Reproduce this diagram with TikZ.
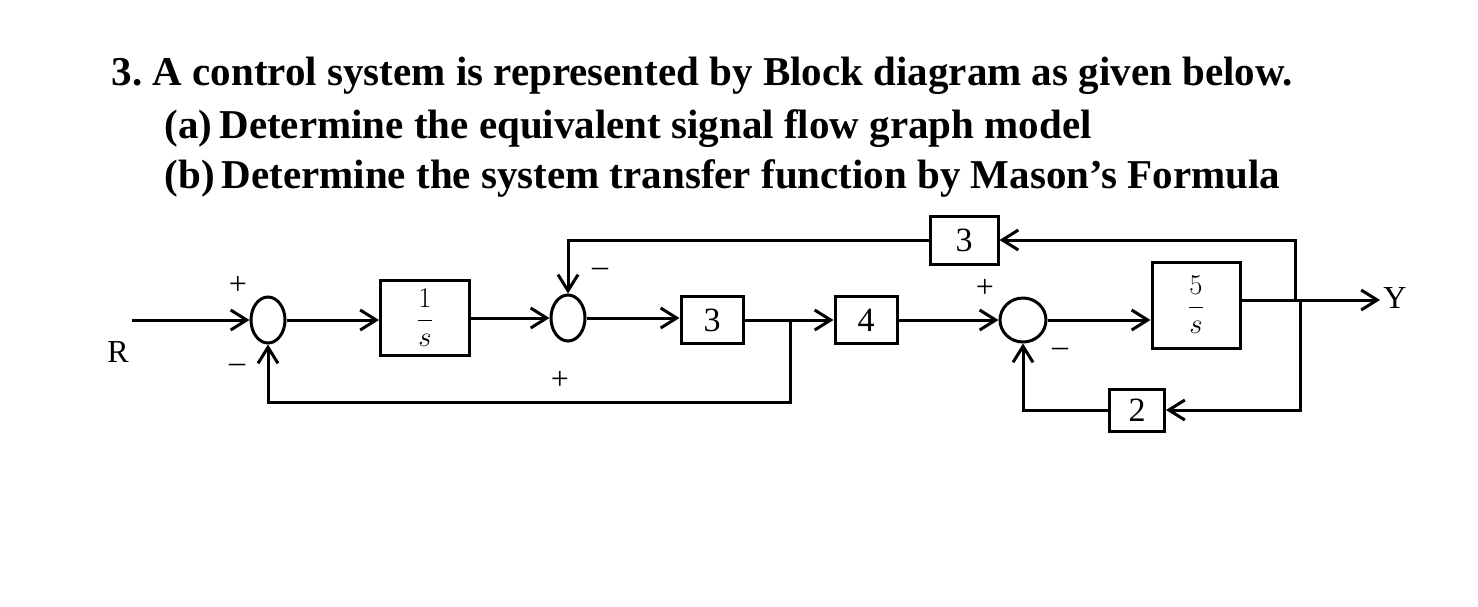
\documentclass[tikz,border=0pt]{standalone}
\usepackage{fontspec}
\setmainfont{Liberation Serif}
\usetikzlibrary{arrows.meta,shapes.geometric}
\begin{document}
\begin{tikzpicture}[x=1pt,y=-1pt,line width=3pt,
  sumj/.style={draw,ellipse,minimum width=34pt,minimum height=46pt,inner sep=0pt},
  blk/.style={draw,minimum width=#1,inner sep=0pt,font=\fontsize{34}{34}\selectfont},
  sig/.style={-{Straight Barb[length=16pt,width=20pt]}},
  lab/.style={font=\fontsize{32}{32}\selectfont},
  ttl/.style={anchor=base west,font=\bfseries\fontsize{41}{41}\selectfont}]
\useasboundingbox (0,0) rectangle (1478,606);
\node[ttl] (t1) at (107,85) {3.\ A control system is represented by Block diagram as given below.};
\node[ttl] (t2) at (160,138) {(a)\,Determine the equivalent signal flow graph model};
\node[ttl] (t3) at (160,188) {(b)\,Determine the system transfer function by Mason’s Formula};
\node[lab] (R) at (118,352) {R};
\coordinate (Rin) at (132,320);
\node[sumj] (s1) at (268,320) {};
\node[blk=89pt,minimum height=75pt] (b1) at (425,318) {\scalebox{1.15}{$\displaystyle\frac{1}{s}$}};
\node[sumj] (s2) at (568,318) {};
\node[blk=62pt,minimum height=47pt] (b3) at (712,320) {3};
\node[blk=62pt,minimum height=47pt] (b4) at (866,320) {4};
\node[sumj,minimum width=46pt,minimum height=44pt] (s3) at (1023,320) {};
\node[blk=88pt,minimum height=86pt] (b5) at (1196,305) {\scalebox{1.15}{$\displaystyle\frac{5}{s}$}};
\node[blk=68pt,minimum height=48pt] (bf3) at (964,240) {3};
\node[blk=55pt,minimum height=42pt] (bf2) at (1137,410) {2};
\node[lab] (Y) at (1395,298) {Y};
\coordinate (p1) at (790,320);
\coordinate (p2) at (1295,300);
\coordinate (p3) at (1300,300);
\coordinate (yout) at (1380,300);
\draw[sig] (Rin) -- (s1.west);
\draw[sig] (s1.east) -- (s1.east -| b1.west);
\draw[sig] (b1.east |- s2.west) -- (s2.west);
\draw[sig] (s2.east) -- (s2.east -| b3.west);
\draw[sig] (b3.east) -- (b4.west);
\draw[sig] (b4.east) -- (s3.west);
\draw[sig] (s3.east) -- (s3.east -| b5.west);
\draw[sig] (b5.east |- p2) -- (yout);
\draw[sig] (p1) -- (790,402) -| (s1.south);
\draw[sig] (p2) |- (bf3.east);
\draw[sig] (bf3.west) -| (s2.north);
\draw[sig] (p3) |- (bf2.east);
\draw[sig] (bf2.west) -| (s3.south);
\node[lab] (sg1) at (238,285) {+};
\node[lab] (sg2) at (237,368) {--};
\node[lab] (sg3) at (600,272) {--};
\node[lab] (sg4) at (560,380) {+};
\node[lab] (sg5) at (985,288) {+};
\node[lab] (sg6) at (1060,352) {--};
\end{tikzpicture}
\end{document}
